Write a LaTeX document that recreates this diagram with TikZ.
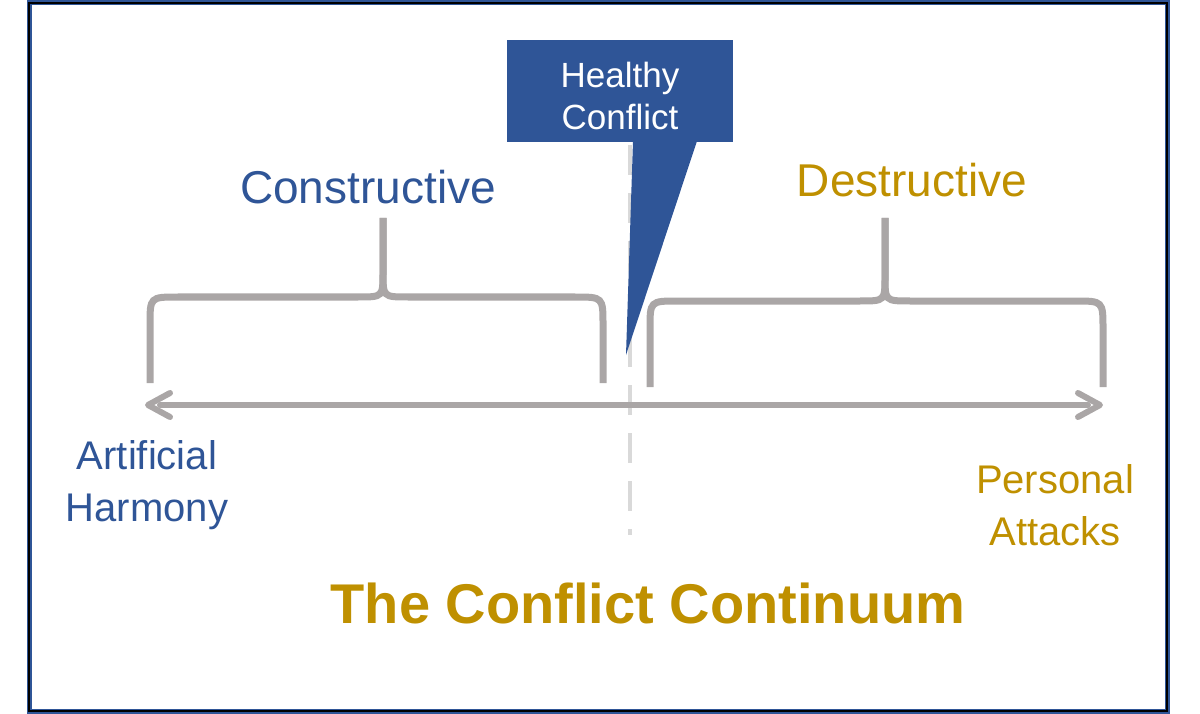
\documentclass[tikz,border=0pt]{standalone}
\usepackage{fontspec}
\setmainfont{Liberation Sans}
\definecolor{cblue}{HTML}{2F5597}
\definecolor{cgold}{HTML}{BF9000}
\definecolor{cgray}{HTML}{AAA6A6}
\begin{document}
\begin{tikzpicture}[x=1pt,y=-1pt,
  brace/.style={draw=cgray,line width=7pt},
  lbl/.style={align=center,inner sep=0pt,font=\fontsize{40}{52}\selectfont}]
\useasboundingbox (0,0) rectangle (1200,714);
\draw[cblue,line width=5pt] (29,3) rectangle (1167,711);
\draw[black,line width=1.5pt] (29,3) rectangle (1167,711);
% dashed line
\draw[gray!30,line width=4pt,dash pattern=on 30pt off 18pt] (630,145) -- (630,535);
% braces
\draw[brace] (150,383) -- (150,325) .. controls (150,297) .. (178,297) -- (358,297) .. controls (383,297) .. (383,272) -- (383,218);
\draw[brace] (383,218) -- (383,272) .. controls (383,297) .. (408,297) -- (575,297) .. controls (603,297) .. (603,325) -- (603,383);
\draw[brace] (650,387) -- (650,329) .. controls (650,301) .. (678,301) -- (860,301) .. controls (885,301) .. (885,276) -- (885,218);
\draw[brace] (885,218) -- (885,276) .. controls (885,301) .. (910,301) -- (1075,301) .. controls (1103,301) .. (1103,329) -- (1103,387);
% arrow
\coordinate (al) at (145,405);
\coordinate (ar) at (1103,405);
\draw[cgray,line width=6pt,line cap=round] (160,405) -- (1088,405);
\draw[cgray,line width=6pt,line cap=round,line join=round] (170,393) -- (148,405) -- (170,417);
\draw[cgray,line width=6pt,line cap=round,line join=round] (1078,393) -- (1100,405) -- (1078,417);
% callout
\fill[cblue] (507,40) rectangle (733,142);
\fill[cblue] (633,141) -- (697,141) -- (626,355) -- cycle;
\node[lbl,text=white,font=\fontsize{35}{42}\selectfont] (hc) at (620,96) {Healthy\\Conflict};
% labels
\node[lbl,text=cblue,font=\fontsize{46}{55}\selectfont] (con) at (368,187) {Constructive};
\node[lbl,text=cgold,font=\fontsize{46}{55}\selectfont] (des) at (912,180) {Destructive};
\node[lbl,text=cblue] (ah) at (147,485) {Artificial\\Harmony};
\node[lbl,text=cgold] (pa) at (1055,505) {Personal\\Attacks};
\node[lbl,text=cgold,font=\bfseries\fontsize{56}{60}\selectfont] (title) at (648,603) {The Conflict Continuum};
\end{tikzpicture}
\end{document}
